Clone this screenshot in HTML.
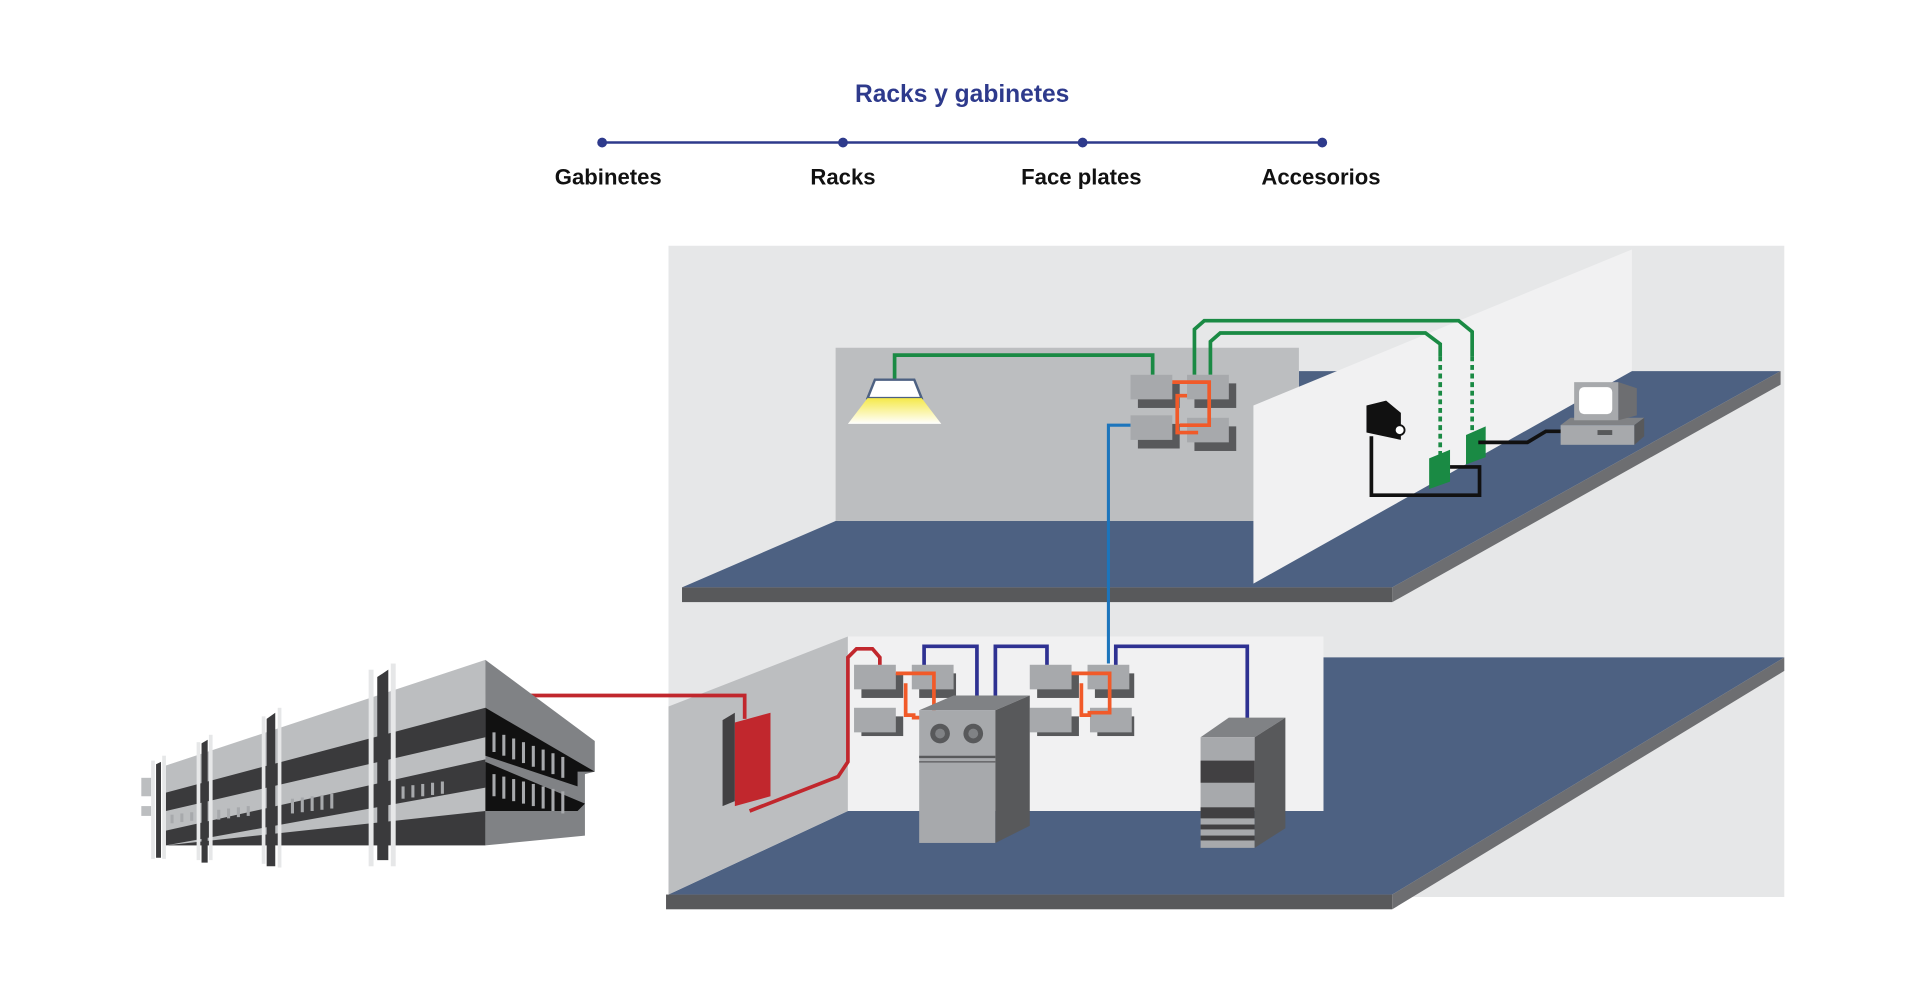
<!DOCTYPE html>
<html><head><meta charset="utf-8"><style>
html,body{margin:0;padding:0;background:#fff;width:1917px;height:999px;overflow:hidden}
svg{display:block}
text{font-family:"Liberation Sans",sans-serif}
</style></head><body>
<svg width="1917" height="999" viewBox="0 0 1560 813" preserveAspectRatio="none">
<defs>
<linearGradient id="lg" x1="0" y1="0" x2="0" y2="1"><stop offset="0" stop-color="#f5e94a"/><stop offset="1" stop-color="#ffffff"/></linearGradient>
</defs>
<!-- header -->
<text x="783" y="83" text-anchor="middle" font-size="20" font-weight="bold" fill="#2e3a8c">Racks y gabinetes</text>
<line x1="490" y1="116" x2="1076" y2="116" stroke="#2e3a8c" stroke-width="2"/>
<g fill="#2e3a8c"><circle cx="490" cy="116" r="4"/><circle cx="686" cy="116" r="4"/><circle cx="881" cy="116" r="4"/><circle cx="1076" cy="116" r="4"/></g>
<g font-size="18" font-weight="bold" fill="#111" text-anchor="middle">
<text x="495" y="150">Gabinetes</text><text x="686" y="150">Racks</text><text x="880" y="150">Face plates</text><text x="1075" y="150">Accesorios</text></g>

<!-- building back -->
<rect x="544" y="200" width="908" height="530" fill="#e6e7e8"/>
<!-- upper floor -->
<polygon points="555,478 680,424 1057,424 1057,302 1449,302 1133,478" fill="#4d6182"/>
<rect x="680" y="283" width="377" height="141" fill="#bcbec0"/>
<polygon points="1020,330 1328,203 1328,302 1020,475" fill="#f1f1f2"/>
<rect x="555" y="478" width="578" height="12" fill="#58595b"/>
<polygon points="1133,478 1449,302 1449,313 1133,490" fill="#6d6e71"/>
<!-- lower floor -->
<polygon points="544,728 690,660 1077,660 1077,535 1452,535 1133,728" fill="#4d6182"/>
<polygon points="544,575 690,518 690,660 544,728" fill="#bcbec0"/>
<rect x="690" y="518" width="387" height="142" fill="#f1f1f2"/>
<rect x="542" y="728" width="591" height="12" fill="#58595b"/>
<polygon points="1133,728 1452,535 1452,546 1133,740" fill="#6d6e71"/>

<!-- blue riser -->
<polyline points="920,346 902,346 902,540" fill="none" stroke="#1c75bc" stroke-width="2.5"/>

<!-- green cables -->
<g fill="none" stroke="#1a8a44" stroke-width="3">
<polyline points="728,308 728,289 938,289 938,305"/>
<polyline points="972,305 972,268 980,261 1187,261 1198,270 1198,290"/>
<polyline points="985,305 985,278 993,271 1160,271 1172,280 1172,290"/>
<line x1="1198" y1="290" x2="1198" y2="352" stroke-dasharray="4,3"/>
<line x1="1172" y1="290" x2="1172" y2="372" stroke-dasharray="4,3"/>
</g>
<!-- lamp -->
<polygon points="712,309 744,309 750,324 706,324" fill="#fff" stroke="#4d6182" stroke-width="2"/>
<polygon points="706,324 750,324 766,345 690,345" fill="url(#lg)"/>

<!-- faceplates upper -->
<g>
<rect x="926" y="312" width="34" height="20" fill="#58595b"/><rect x="920" y="305" width="34" height="20" fill="#a7a9ac"/>
<rect x="972" y="312" width="34" height="20" fill="#58595b"/><rect x="966" y="305" width="34" height="20" fill="#a7a9ac"/>
<rect x="926" y="345" width="34" height="20" fill="#58595b"/><rect x="920" y="338" width="34" height="20" fill="#a7a9ac"/>
<rect x="972" y="347" width="34" height="20" fill="#58595b"/><rect x="966" y="340" width="34" height="20" fill="#a7a9ac"/>
</g>
<g fill="none" stroke="#f15a29" stroke-width="3">
<polyline points="954,311 984,311 984,346 960,346"/>
<polyline points="966,322 958,322 958,352 975,352"/>
</g>

<!-- camera -->
<polygon points="1112,330 1128,326 1140,336 1140,358 1112,352" fill="#111"/>
<circle cx="1139" cy="350" r="4" fill="#fff" stroke="#111" stroke-width="1.5"/>
<!-- green plates on wall -->
<polygon points="1163,373 1180,366 1180,392 1163,398" fill="#1a8a44"/>
<polygon points="1193,354 1209,347 1209,372 1193,378" fill="#1a8a44"/>
<g fill="none" stroke="#111" stroke-width="3">
<polyline points="1116,355 1116,403 1204,403 1204,380 1180,380"/>
<polyline points="1203,360 1243,360 1258,351 1272,351"/>
</g>
<!-- computer -->
<polygon points="1270,346 1330,346 1338,340 1278,340" fill="#808285"/>
<rect x="1270" y="346" width="60" height="16" fill="#a7a9ac"/>
<polygon points="1330,346 1338,340 1338,355 1330,362" fill="#58595b"/>
<rect x="1300" y="350" width="12" height="4" fill="#58595b"/>
<rect x="1281" y="311" width="36" height="31" fill="#a7a9ac"/>
<polygon points="1317,311 1332,316 1332,338 1317,342" fill="#6d6e71"/>
<rect x="1285" y="315" width="27" height="22" rx="4" fill="#fff"/>

<!-- red cables -->
<g fill="none" stroke="#c1272d" stroke-width="3">
<polyline points="417,580 417,566 606,566 606,585"/>
<polyline points="610,660 682,632 690,620 690,535 697,528 710,528 716,535 716,542"/>
</g>
<polygon points="588,586 598,580 598,652 588,656" fill="#414042"/>
<polygon points="598,588 627,580 627,648 598,656" fill="#c1272d"/>

<!-- navy cables -->
<g fill="none" stroke="#2e3192" stroke-width="3">
<polyline points="752,542 752,526 795,526 795,568"/>
<polyline points="810,568 810,526 852,526 852,542"/>
<polyline points="908,542 908,526 1015,526 1015,586"/>
</g>
<!-- lower faceplates -->
<g>
<rect x="701" y="548" width="34" height="20" fill="#58595b"/><rect x="695" y="541" width="34" height="20" fill="#a7a9ac"/>
<rect x="748" y="548" width="30" height="20" fill="#58595b"/><rect x="742" y="541" width="34" height="20" fill="#a7a9ac"/>
<rect x="701" y="583" width="34" height="16" fill="#58595b"/><rect x="695" y="576" width="34" height="20" fill="#a7a9ac"/>
<rect x="844" y="548" width="34" height="20" fill="#58595b"/><rect x="838" y="541" width="34" height="20" fill="#a7a9ac"/>
<rect x="891" y="548" width="32" height="20" fill="#58595b"/><rect x="885" y="541" width="34" height="20" fill="#a7a9ac"/>
<rect x="844" y="583" width="34" height="16" fill="#58595b"/><rect x="838" y="576" width="34" height="20" fill="#a7a9ac"/>
<rect x="893" y="583" width="30" height="16" fill="#58595b"/><rect x="887" y="576" width="34" height="20" fill="#a7a9ac"/>
</g>
<g fill="none" stroke="#f15a29" stroke-width="3">
<polyline points="729,548 760,548 760,584 742,584"/>
<polyline points="737,556 737,582 745,582"/>
<polyline points="872,548 903,548 903,580 885,580"/>
<polyline points="880,556 880,582 888,582"/>
</g>
<!-- server cabinet -->
<polygon points="748,578 776,566 838,566 810,578" fill="#808285"/>
<rect x="748" y="578" width="62" height="108" fill="#a7a9ac"/>
<polygon points="810,578 838,566 838,672 810,686" fill="#58595b"/>
<circle cx="765" cy="597" r="8" fill="#58595b"/><circle cx="765" cy="597" r="4" fill="#808285"/>
<circle cx="792" cy="597" r="8" fill="#58595b"/><circle cx="792" cy="597" r="4" fill="#808285"/>
<line x1="748" y1="616" x2="810" y2="616" stroke="#58595b" stroke-width="2"/>
<line x1="748" y1="620" x2="810" y2="620" stroke="#58595b" stroke-width="1"/>
<!-- tower -->
<polygon points="977,600 1000,584 1046,584 1021,600" fill="#808285"/>
<rect x="977" y="600" width="44" height="90" fill="#a7a9ac"/>
<polygon points="1021,600 1046,584 1046,674 1021,690" fill="#58595b"/>
<rect x="977" y="619" width="44" height="18" fill="#414042"/>
<rect x="977" y="657" width="44" height="9" fill="#414042"/>
<rect x="977" y="671" width="44" height="4" fill="#414042"/>
<rect x="977" y="680" width="44" height="4" fill="#414042"/>

<!-- building -->
<polygon points="135,623 395,537 395,688 135,688" fill="#bcbec0"/>
<polygon points="135,645 395,576 395,600 135,660" fill="#3a3a3c"/>
<polygon points="135,676 395,618 395,641 135,688" fill="#3a3a3c"/>
<polygon points="135,688 395,660 395,688" fill="#3a3a3c"/>
<polygon points="395,537 484,603 484,628 476,630 476,680 395,688" fill="#808285"/>
<polygon points="395,576 484,628 470,628 470,640 395,615" fill="#111"/>
<polygon points="395,620 476,654 470,660 395,660" fill="#111"/>
<g stroke="#a7a9ac" stroke-width="2.5">
<line x1="402" y1="596" x2="402" y2="612"/><line x1="410" y1="598" x2="410" y2="615"/><line x1="418" y1="601" x2="418" y2="618"/><line x1="426" y1="604" x2="426" y2="621"/><line x1="434" y1="607" x2="434" y2="624"/><line x1="442" y1="610" x2="442" y2="627"/><line x1="450" y1="613" x2="450" y2="630"/><line x1="458" y1="616" x2="458" y2="633"/>
<line x1="402" y1="630" x2="402" y2="648"/><line x1="410" y1="632" x2="410" y2="650"/><line x1="418" y1="634" x2="418" y2="652"/><line x1="426" y1="636" x2="426" y2="654"/><line x1="434" y1="638" x2="434" y2="656"/><line x1="442" y1="640" x2="442" y2="658"/><line x1="450" y1="642" x2="450" y2="660"/><line x1="458" y1="644" x2="458" y2="662"/>
<line x1="328" y1="640" x2="328" y2="650"/><line x1="336" y1="639" x2="336" y2="649"/><line x1="344" y1="638" x2="344" y2="648"/><line x1="352" y1="637" x2="352" y2="647"/><line x1="360" y1="636" x2="360" y2="646"/>
<line x1="238" y1="650" x2="238" y2="662"/><line x1="246" y1="649" x2="246" y2="661"/><line x1="254" y1="648" x2="254" y2="660"/><line x1="262" y1="647" x2="262" y2="659"/><line x1="270" y1="646" x2="270" y2="658"/>
<line x1="178" y1="659" x2="178" y2="667"/><line x1="186" y1="658" x2="186" y2="666"/><line x1="194" y1="657" x2="194" y2="665"/><line x1="202" y1="656" x2="202" y2="664"/>
<line x1="140" y1="663" x2="140" y2="670"/><line x1="148" y1="662" x2="148" y2="669"/><line x1="156" y1="661" x2="156" y2="668"/>
</g>
<rect x="115" y="633" width="8" height="15" fill="#bcbec0"/><rect x="115" y="656" width="8" height="8" fill="#bcbec0"/>
<g fill="#e6e7e8"><rect x="123" y="619" width="3" height="80"/><rect x="132" y="615" width="3" height="84"/><rect x="160" y="604" width="3" height="96"/><rect x="170" y="598" width="3" height="102"/><rect x="213" y="583" width="3" height="120"/><rect x="226" y="576" width="3" height="130"/><rect x="300" y="545" width="4" height="160"/><rect x="318" y="540" width="4" height="165"/></g>
<g fill="#3a3a3c"><polygon points="127,622 131,620 131,698 127,698"/><polygon points="164,605 169,602 169,702 164,702"/><polygon points="217,585 224,580 224,705 217,705"/><polygon points="307,551 316,545 316,700 307,700"/></g>
</svg>
</body></html>
